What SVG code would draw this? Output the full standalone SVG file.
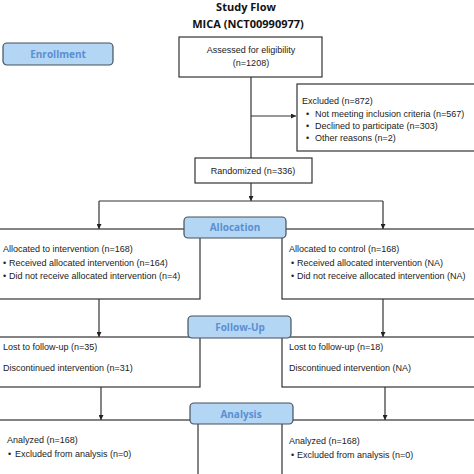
<svg xmlns="http://www.w3.org/2000/svg" width="474" height="474" viewBox="0 0 474 474">
<defs>
<marker id="ah" viewBox="0 0 10 10" refX="10" refY="5" markerWidth="5" markerHeight="5" orient="auto" markerUnits="userSpaceOnUse">
<path d="M0,0 L10,5 L0,10 z" fill="#222"/>
</marker>
</defs>
<style>
.box{fill:#fff;stroke:#333;stroke-width:1.2}
.stage{fill:#b3d6f4;stroke:#45505c;stroke-width:1.2}
.st{font-family:"Open Sans","Liberation Sans",sans-serif;font-weight:bold;font-size:10px;fill:#5b8fd1;text-anchor:middle}
.t{font-family:"Liberation Sans",Arial,sans-serif;font-size:9px;fill:#222}
.c{text-anchor:middle}
.title{font-family:"Open Sans","Liberation Sans",sans-serif;font-weight:bold;font-size:11px;fill:#111;text-anchor:middle}
.ln{fill:none;stroke:#333;stroke-width:1.2}
</style>
<rect width="474" height="474" fill="#fff"/>
<text class="title" x="246" y="11">Study Flow</text>
<text class="title" x="248" y="28">MICA (NCT00990977)</text>

<g id="connectors">
<path class="ln" d="M251,77 V158"/>
<path class="ln" d="M251,116 H296" marker-end="url(#ah)"/>
<path class="ln" d="M251,183 V201" marker-end="url(#ah)"/>
<path class="ln" d="M99,201 H383"/>
<path class="ln" d="M99,201 V229" marker-end="url(#ah)"/>
<path class="ln" d="M383,201 V229" marker-end="url(#ah)"/>
<path class="ln" d="M99,299 V337" marker-end="url(#ah)"/>
<path class="ln" d="M383,299 V337" marker-end="url(#ah)"/>
<path class="ln" d="M101,387 V420" marker-end="url(#ah)"/>
<path class="ln" d="M385,387 V420" marker-end="url(#ah)"/>
</g>

<g id="assessed">
<rect class="box" x="179" y="37" width="143" height="40"/>
<text class="t c" x="251" y="53">Assessed for eligibility</text>
<text class="t c" x="251" y="66">(n=1208)</text>
</g>

<g id="excluded">
<rect class="box" x="297" y="84" width="180" height="67"/>
<text class="t" x="302" y="104">Excluded (n=872)</text>
<text class="t" x="306" y="117">•</text><text class="t" x="315" y="117">Not meeting inclusion criteria (n=567)</text>
<text class="t" x="306" y="129">•</text><text class="t" x="315" y="129">Declined to participate (n=303)</text>
<text class="t" x="306" y="141">•</text><text class="t" x="315" y="141">Other reasons (n=2)</text>
</g>

<g id="randomized">
<rect class="box" x="195" y="158" width="117" height="25"/>
<text class="t c" x="253" y="174">Randomized (n=336)</text>
</g>

<g id="alloc-left">
<rect class="box" x="-2" y="229" width="202" height="70"/>
<text class="t" x="3" y="252">Allocated to intervention (n=168)</text>
<text class="t" x="3" y="266">•</text><text class="t" x="9" y="266">Received allocated intervention (n=164)</text>
<text class="t" x="3" y="279">•</text><text class="t" x="9" y="279">Did not receive allocated intervention (n=4)</text>
</g>

<g id="alloc-right">
<rect class="box" x="282" y="229" width="195" height="70"/>
<text class="t" x="289" y="252">Allocated to control (n=168)</text>
<text class="t" x="291" y="266">•</text><text class="t" x="297" y="266">Received allocated intervention (NA)</text>
<text class="t" x="291" y="279">•</text><text class="t" x="297" y="279">Did not receive allocated intervention (NA)</text>
</g>

<g id="follow-left">
<rect class="box" x="-2" y="337" width="202" height="50"/>
<text class="t" x="3" y="350">Lost to follow-up (n=35)</text>
<text class="t" x="3" y="371">Discontinued intervention (n=31)</text>
</g>

<g id="follow-right">
<rect class="box" x="282" y="337" width="195" height="50"/>
<text class="t" x="289" y="350">Lost to follow-up (n=18)</text>
<text class="t" x="289" y="371">Discontinued intervention (NA)</text>
</g>

<g id="analysis-left">
<rect class="box" x="-2" y="420" width="200" height="60"/>
<text class="t" x="7" y="443">Analyzed (n=168)</text>
<text class="t" x="8" y="457">•</text><text class="t" x="15" y="457">Excluded from analysis (n=0)</text>
</g>

<g id="analysis-right">
<rect class="box" x="282" y="420" width="195" height="60"/>
<text class="t" x="289" y="444">Analyzed (n=168)</text>
<text class="t" x="291" y="458">•</text><text class="t" x="297" y="458">Excluded from analysis (n=0)</text>
</g>

<g id="enrollment">
<rect class="stage" x="3" y="43" width="110" height="22" rx="4"/>
<text class="st" x="58" y="58">Enrollment</text>
</g>

<g id="allocation">
<rect class="stage" x="184" y="217" width="102" height="21" rx="4"/>
<text class="st" x="235" y="231">Allocation</text>
</g>

<g id="follow-up">
<rect class="stage" x="188" y="316" width="103" height="22" rx="4"/>
<text class="st" x="240" y="331">Follow-Up</text>
</g>

<g id="analysis">
<rect class="stage" x="190" y="403" width="103" height="21" rx="4"/>
<text class="st" x="241" y="418">Analysis</text>
</g>
</svg>
